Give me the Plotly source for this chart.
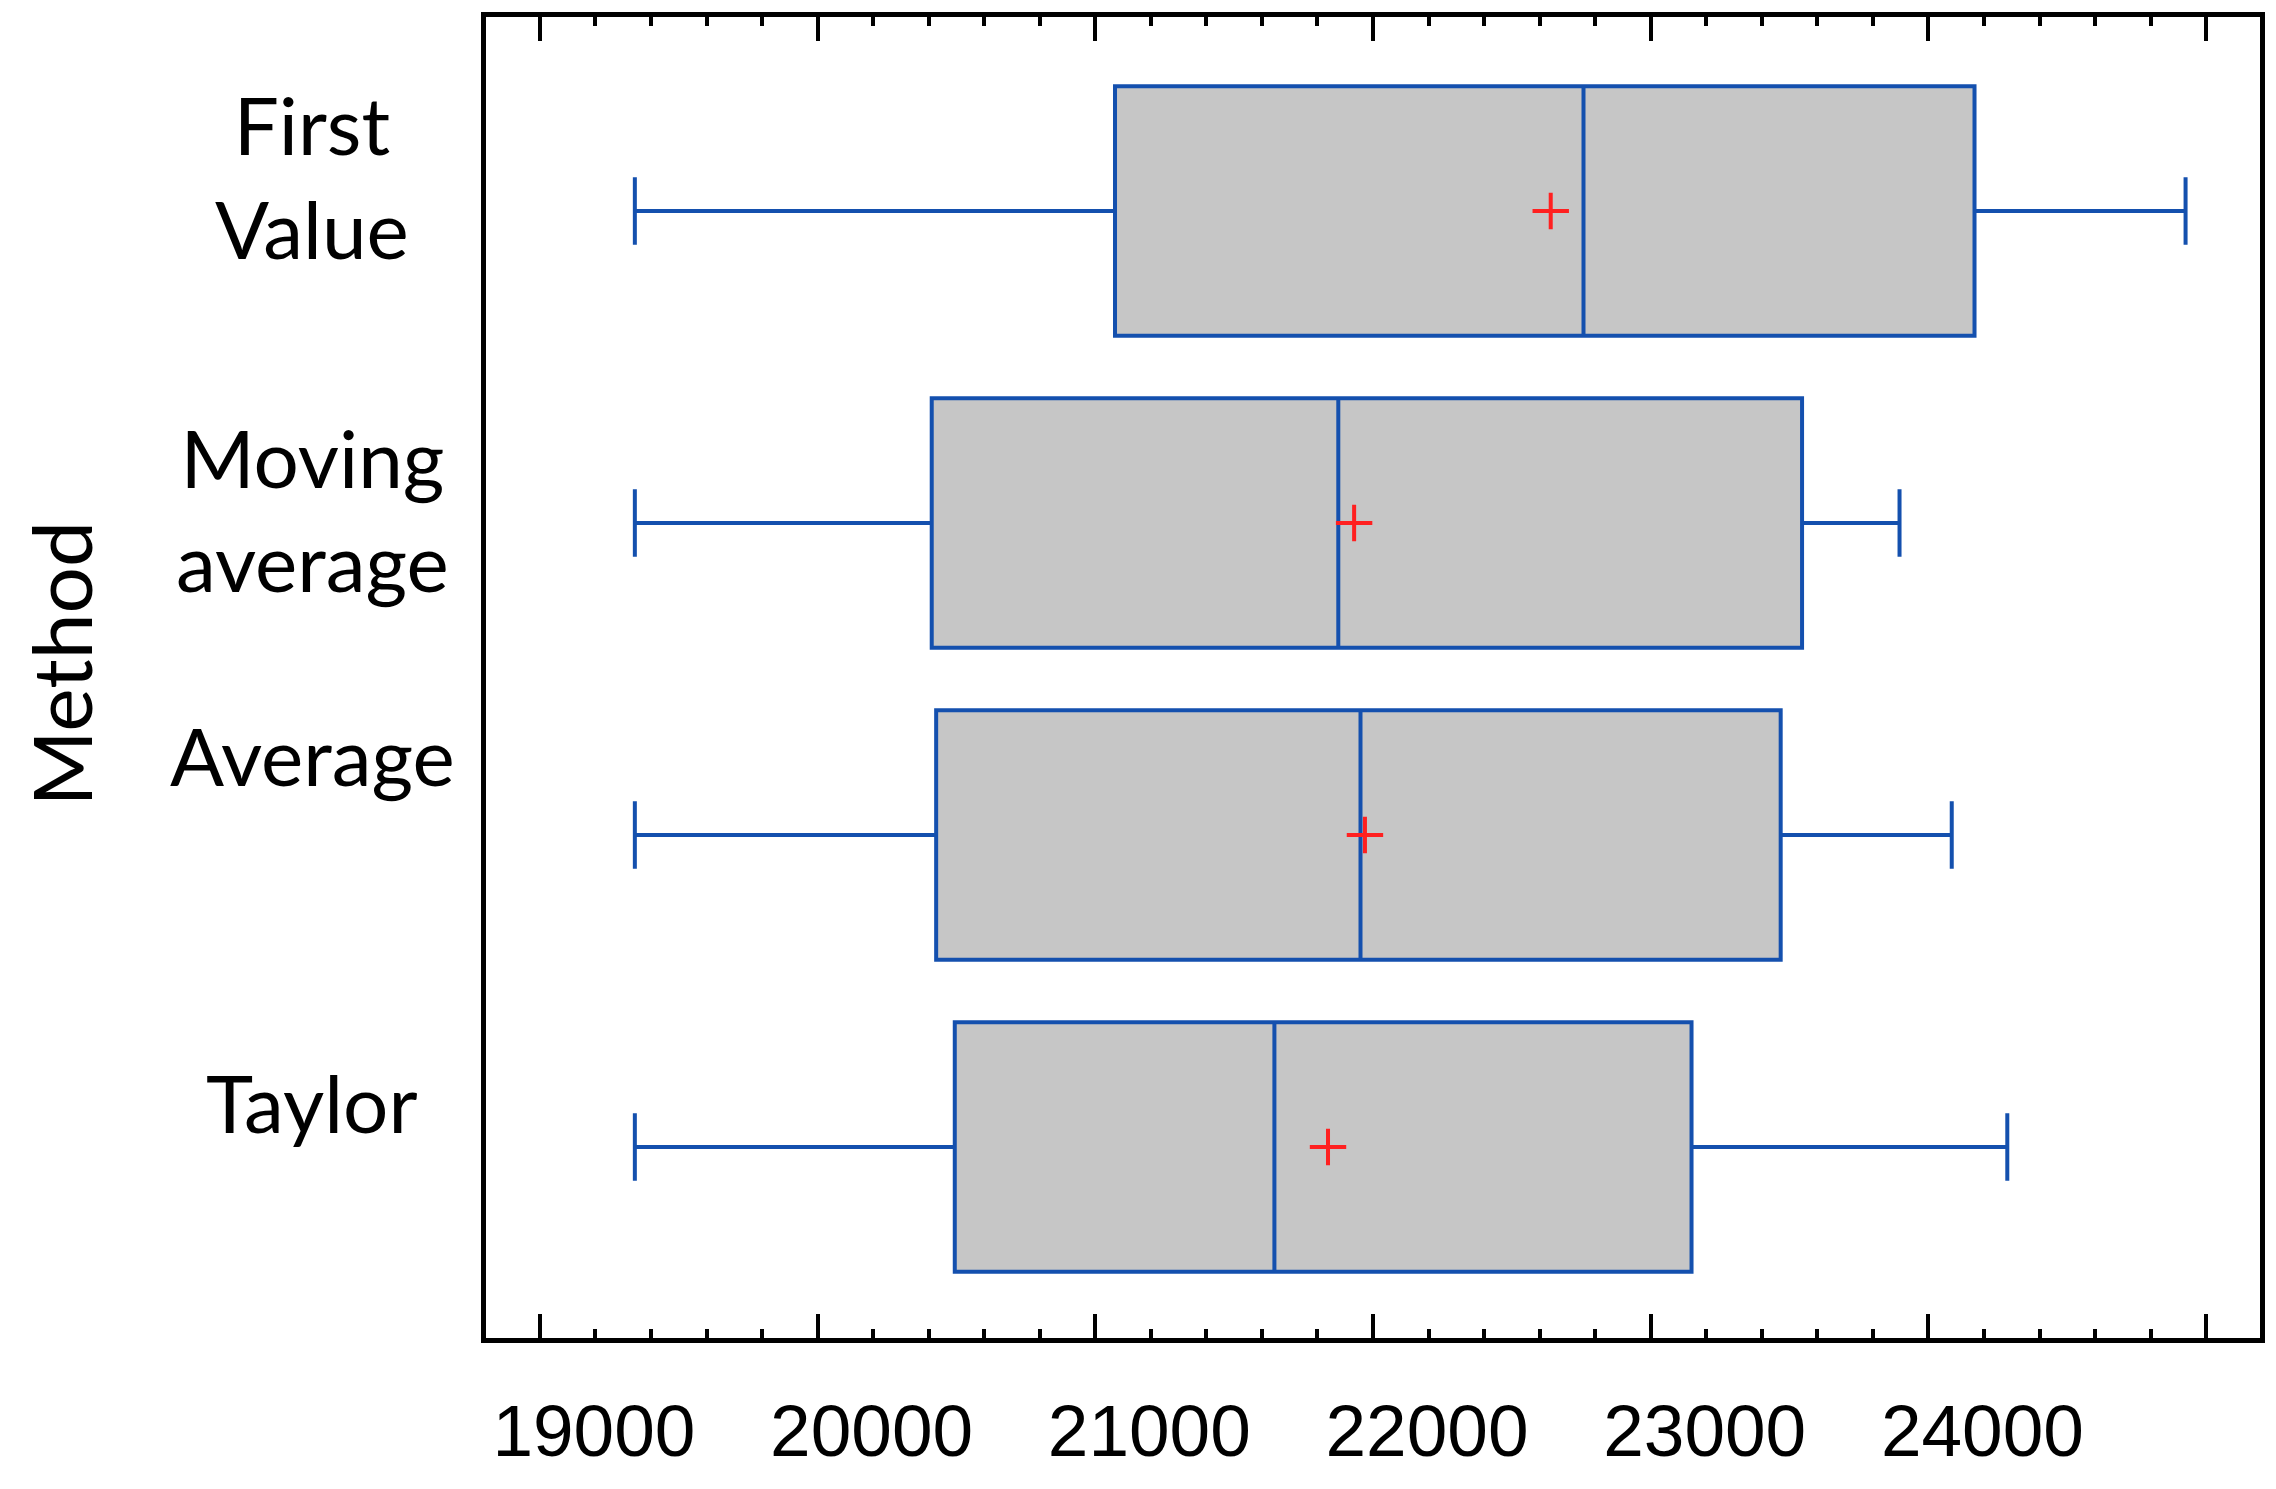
import plotly.graph_objects as go

# categories bottom -> top
methods = ["Taylor", "Average", "Moving average", "First Value"]
method_labels = ["Taylor", "Average", "Moving<br>average", "First<br>Value"]

q1 = [20494, 20427, 20411, 21071]
median = [21645, 21955, 21875, 22758]
q3 = [23147, 23468, 23545, 24166]
lower = [19342, 19342, 19342, 19342]
upper = [24284, 24084, 23896, 24926]
means = [21838, 21971, 21932, 22640]

tick_vals = [19000, 20000, 21000, 22000, 23000, 24000, 25000]
tick_text = ["19000", "20000", "21000", "22000", "23000", "24000", ""]

blue = "#1450ae"

fig = go.Figure()
fig.add_trace(go.Box(
    y=methods, q1=q1, median=median, q3=q3,
    lowerfence=lower, upperfence=upper,
    orientation="h", boxpoints=False,
    fillcolor="#c6c6c6",
    line=dict(color=blue, width=4),
    whiskerwidth=0.27,
    showlegend=False, hoverinfo="skip",
))
fig.add_trace(go.Scatter(
    x=means, y=methods, mode="markers",
    marker=dict(symbol="cross-thin", size=26, line=dict(color="#ff2020", width=4)),
    showlegend=False, hoverinfo="skip",
))

# category labels, centred, slightly offset from the boxes as in the original
label_shift = [45, 80, 14, 35]
for m, lab, s in zip(methods, method_labels, label_shift):
    fig.add_annotation(x=-0.098, xref="paper", y=m, yref="y", yshift=s,
                       text=lab, showarrow=False, xanchor="center", yanchor="middle",
                       align="center", font=dict(family="Lato", size=80, color="black"))

fig.add_annotation(x=-0.24, xref="paper", y=0.51, yref="paper", text="Method",
                   textangle=-90, showarrow=False, xanchor="center", yanchor="middle",
                   font=dict(family="Lato", size=82, color="black"))

# page body has an 8px margin, so the figure is 16px smaller than the window
fig.update_layout(
    width=2260, height=1473,
    margin=dict(l=478, r=8, t=9, b=143),
    paper_bgcolor="white", plot_bgcolor="white",
    boxgap=0.2, boxgroupgap=0,
)
fig.update_xaxes(
    range=[18806, 25194], automargin=False,
    tickmode="array", tickvals=tick_vals, ticktext=tick_text,
    ticks="inside", ticklen=24, tickwidth=4, tickcolor="black",
    minor=dict(tickmode="linear", tick0=19000, dtick=200, ticks="inside",
               ticklen=9, tickwidth=4, tickcolor="black", showgrid=False),
    showline=True, linewidth=5, linecolor="black", mirror="ticks",
    showgrid=False, zeroline=False,
    tickfont=dict(family="Liberation Sans, Arial", size=73, color="black"),
    ticklabelshift=54, ticklabelstandoff=25,
)
fig.update_yaxes(
    type="category", categoryorder="array", categoryarray=methods,
    range=[-0.612, 3.622], automargin=False,
    showticklabels=False, ticks="",
    showline=True, linewidth=5, linecolor="black", mirror=True,
    showgrid=False, zeroline=False,
)

fig.write_html("out.html")
